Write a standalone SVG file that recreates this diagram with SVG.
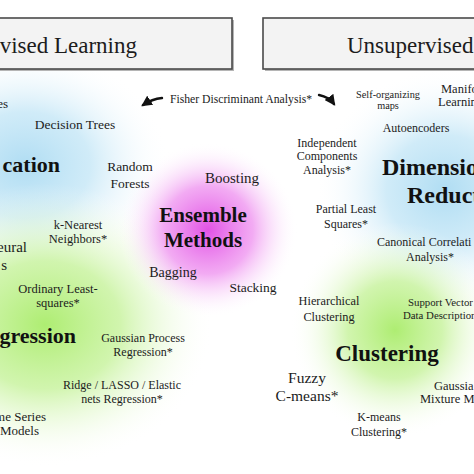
<svg xmlns="http://www.w3.org/2000/svg" width="474" height="474" viewBox="0 0 474 474">
<defs>
<radialGradient id="gBlue"><stop offset="0" stop-color="#b0ddf3"/><stop offset="0.45" stop-color="#c8e8f7" stop-opacity="0.85"/><stop offset="1" stop-color="#ffffff" stop-opacity="0"/></radialGradient>
<radialGradient id="gGreen"><stop offset="0" stop-color="#aeed72"/><stop offset="0.45" stop-color="#c9f3a0" stop-opacity="0.85"/><stop offset="1" stop-color="#ffffff" stop-opacity="0"/></radialGradient>
<radialGradient id="gMag"><stop offset="0" stop-color="#e253e5"/><stop offset="0.5" stop-color="#f09cf1" stop-opacity="0.85"/><stop offset="1" stop-color="#ffffff" stop-opacity="0"/></radialGradient>
<marker id="ah" viewBox="0 0 10 10" refX="8" refY="5" markerWidth="4.5" markerHeight="4.5" orient="auto"><path d="M0,0 L10,5 L0,10 z" fill="#111"/></marker>
</defs>
<style>
text{font-family:"Liberation Serif","Times New Roman",serif;fill:#1c1c1c;text-anchor:middle}
.b{font-weight:bold;fill:#111}
.s{text-anchor:start}
.e{text-anchor:end}
.box{fill:#f3f3f3;stroke:#4a4a4a;stroke-width:1.6}
.sh{fill:#b5b5b5}
.conn{fill:none;stroke:#111;stroke-width:2.4;stroke-linecap:round}
</style>
<rect width="474" height="474" fill="#ffffff"/>
<g id="blobs">
<ellipse cx="25" cy="165" rx="145" ry="118" fill="url(#gBlue)"/>
<ellipse cx="445" cy="190" rx="130" ry="122" fill="url(#gBlue)"/>
<ellipse cx="45" cy="325" rx="168" ry="142" fill="url(#gGreen)"/>
<ellipse cx="395" cy="330" rx="105" ry="108" fill="url(#gGreen)"/>
<ellipse cx="208" cy="230" rx="90" ry="88" fill="url(#gMag)"/>
</g>
<g id="supervised">
<rect class="sh" x="-8" y="20" width="242" height="51"/>
<rect class="box" x="-10" y="18" width="242" height="51"/>
<text class="e" x="137" y="53" style="font-size:23px">vised Learning</text>
</g>
<g id="unsupervised">
<rect class="sh" x="265" y="20" width="230" height="51"/>
<rect class="box" x="263" y="18" width="230" height="51"/>
<text class="s" x="347" y="53" style="font-size:23px">Unsupervised</text>
</g>
<g id="connectors">
<path class="conn" d="M162,98 Q152,99 143,105" marker-end="url(#ah)"/>
<path class="conn" d="M319,95 Q329,97 334,104" marker-end="url(#ah)"/>
</g>
<g id="fisher"><text x="241" y="103" style="font-size:11.7px">Fisher Discriminant Analysis*</text></g>
<g id="es"><text class="e" x="8" y="108" style="font-size:13px">es</text></g>
<g id="decision-trees"><text x="75" y="129" style="font-size:13.5px">Decision Trees</text></g>
<g id="classification"><text class="b e" x="60" y="172" style="font-size:22px">cation</text></g>
<g id="random-forests"><text x="130" y="171" style="font-size:13.5px">Random</text><text x="130" y="188" style="font-size:13.5px">Forests</text></g>
<g id="boosting"><text x="232" y="183" style="font-size:15px">Boosting</text></g>
<g id="ensemble"><text class="b" x="203" y="222" style="font-size:21px">Ensemble</text><text class="b" x="203" y="247" style="font-size:21px">Methods</text></g>
<g id="knn"><text x="78" y="229" style="font-size:12.5px">k-Nearest</text><text x="78" y="243" style="font-size:12.5px">Neighbors*</text></g>
<g id="neural"><text class="e" x="27" y="252" style="font-size:15px">eural</text><text class="e" x="7" y="270" style="font-size:15px">s</text></g>
<g id="ols"><text x="58" y="293" style="font-size:12.5px">Ordinary Least-</text><text x="58" y="307" style="font-size:12.5px">squares*</text></g>
<g id="bagging"><text x="173" y="277" style="font-size:14px">Bagging</text></g>
<g id="stacking"><text x="253" y="292" style="font-size:13.5px">Stacking</text></g>
<g id="regression"><text class="b e" x="76" y="343" style="font-size:22px">gression</text></g>
<g id="gpr"><text x="143" y="342" style="font-size:12px">Gaussian Process</text><text x="143" y="356" style="font-size:12px">Regression*</text></g>
<g id="ridge"><text x="122" y="389" style="font-size:12px">Ridge / LASSO / Elastic</text><text x="122" y="403" style="font-size:12px">nets Regression*</text></g>
<g id="time-series"><text class="e" x="46" y="421" style="font-size:13px">me Series</text><text class="s" x="0" y="435" style="font-size:13px">Models</text></g>
<g id="som"><text x="388" y="98" style="font-size:10.3px">Self-organizing</text><text x="388" y="109" style="font-size:10.3px">maps</text></g>
<g id="manifold"><text class="s" x="441" y="93" style="font-size:12.5px">Manifo</text><text class="s" x="438" y="106" style="font-size:12.5px">Learnin</text></g>
<g id="autoencoders"><text x="416" y="132" style="font-size:12px">Autoencoders</text></g>
<g id="ica"><text x="327" y="147" style="font-size:12px">Independent</text><text x="327" y="160" style="font-size:12px">Components</text><text x="327" y="174" style="font-size:12px">Analysis*</text></g>
<g id="dimred"><text class="b s" x="382" y="175" style="font-size:24px">Dimensio</text><text class="b s" x="407" y="203" style="font-size:24px">Reduct</text></g>
<g id="pls"><text x="346" y="213" style="font-size:12px">Partial Least</text><text x="346" y="228" style="font-size:12px">Squares*</text></g>
<g id="cca"><text class="s" x="377" y="246" style="font-size:12px">Canonical Correlati</text><text x="430" y="261" style="font-size:12px">Analysis*</text></g>
<g id="hierarchical"><text x="329" y="305" style="font-size:12.3px">Hierarchical</text><text x="329" y="321" style="font-size:12.3px">Clustering</text></g>
<g id="svdd"><text class="s" x="408" y="306" style="font-size:10.8px">Support Vector</text><text class="s" x="403" y="319" style="font-size:10.8px">Data Description</text></g>
<g id="clustering"><text class="b" x="387" y="361" style="font-size:23px">Clustering</text></g>
<g id="fuzzy"><text x="307" y="383" style="font-size:15.5px">Fuzzy</text><text x="307" y="401" style="font-size:15.5px">C-means*</text></g>
<g id="kmeans"><text x="379" y="421" style="font-size:12px">K-means</text><text x="379" y="436" style="font-size:12px">Clustering*</text></g>
<g id="gmm"><text class="s" x="434" y="390" style="font-size:12.5px">Gaussia</text><text class="s" x="420" y="403" style="font-size:12.5px">Mixture M</text></g>
</svg>
